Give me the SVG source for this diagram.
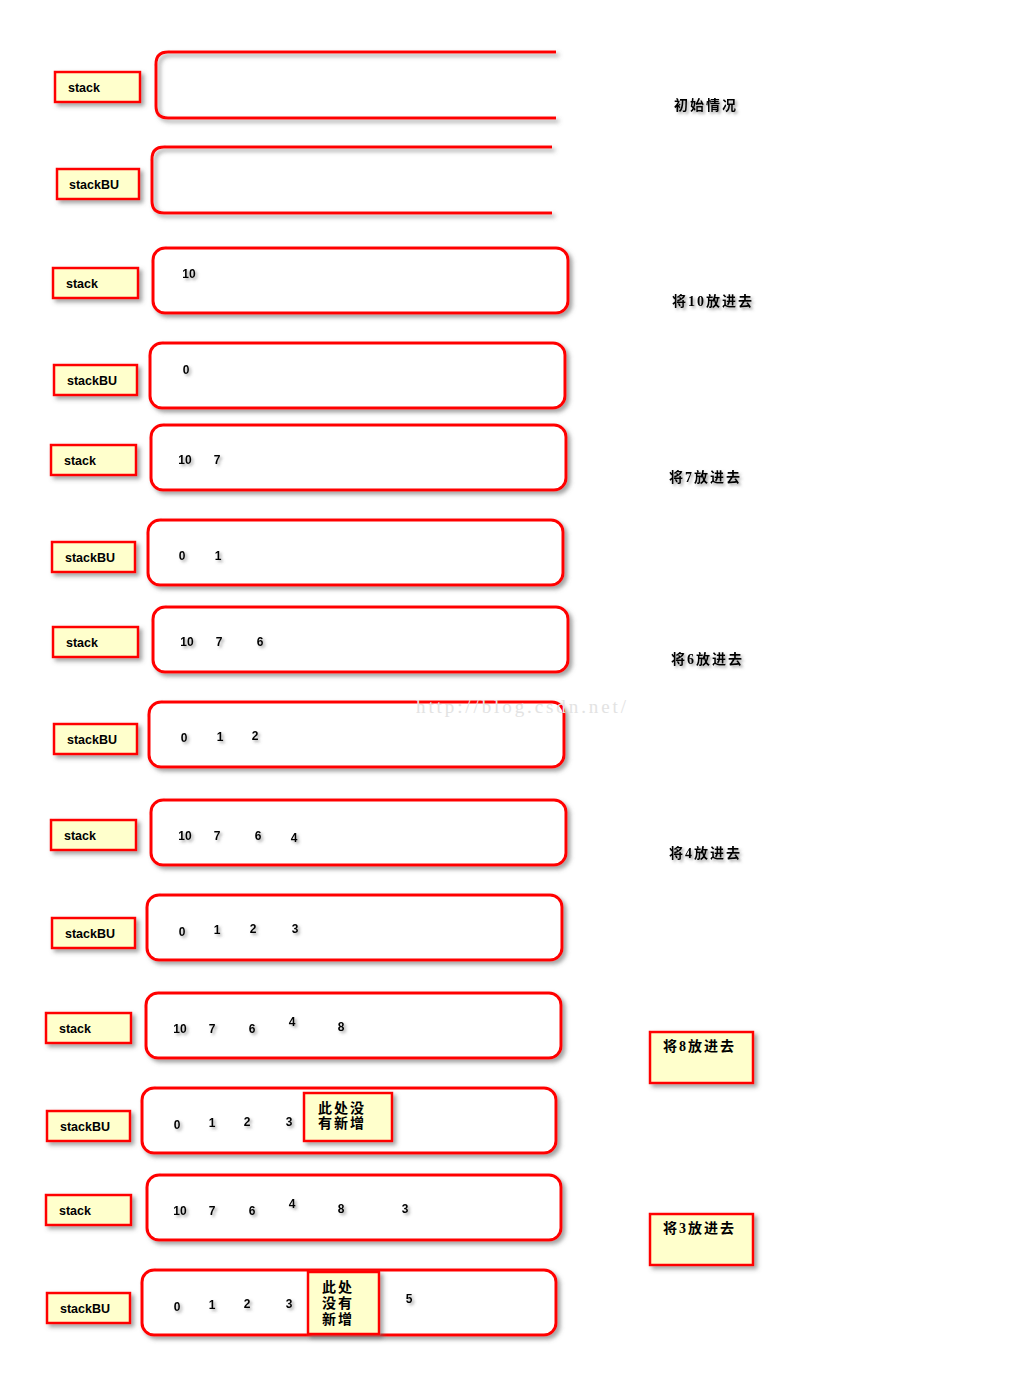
<svg xmlns="http://www.w3.org/2000/svg" width="1022" height="1393" viewBox="0 0 1022 1393">
<defs>
<filter id="sh" x="-10%" y="-20%" width="130%" height="160%"><feDropShadow dx="3" dy="3" stdDeviation="2" flood-color="#666" flood-opacity="0.6"/></filter>
<filter id="tsh" x="-30%" y="-30%" width="180%" height="180%"><feDropShadow dx="2" dy="2" stdDeviation="1.6" flood-color="#555" flood-opacity="0.55"/></filter>
<style>
.big{fill:#fff;stroke:#ff0000;stroke-width:3;filter:url(#sh)}
.open{fill:none;stroke:#ff0000;stroke-width:3;filter:url(#sh)}
.lab{fill:#ffffcc;stroke:#ff0000;stroke-width:2.5;filter:url(#sh)}
.lt{font-family:"Liberation Sans",Arial,sans-serif;font-weight:bold;font-size:12.5px;fill:#000}
.n{font-family:"Liberation Sans",Arial,sans-serif;font-weight:bold;font-size:12px;fill:#000;text-anchor:middle;filter:url(#tsh)}
.cn{font-family:"Liberation Serif","Noto Sans CJK SC",serif;font-weight:bold;font-size:14px;letter-spacing:2px;fill:#000}
.cns{font-family:"Liberation Serif","Noto Sans CJK SC",serif;font-weight:bold;font-size:14px;letter-spacing:2px;fill:#000;filter:url(#tsh)}
.wm{font-family:"Liberation Serif",serif;font-size:19px;fill:#e3e3e3}
</style>
</defs>
<rect width="1022" height="1393" fill="#fff"/>

<g id="row1">
<path class="open" d="M556 52 H168 Q156 52 156 64 V106 Q156 118 168 118 H556"/>
<rect class="lab" x="55" y="72" width="85" height="30"/>
<text class="lt" x="68" y="92">stack</text>
</g>
<g id="row2">
<path class="open" d="M552 147 H164 Q152 147 152 159 V201 Q152 213 164 213 H552"/>
<rect class="lab" x="57" y="169" width="82" height="30"/>
<text class="lt" x="69" y="189">stackBU</text>
</g>
<g id="note-init"><text class="cns" x="674" y="110">初始情况</text></g>

<g id="row3">
<rect class="big" x="153" y="248" width="415" height="65" rx="12"/>
<rect class="lab" x="53" y="268" width="85" height="30"/>
<text class="lt" x="66" y="288">stack</text>
<text class="n" x="189" y="278">10</text>
</g>
<g id="row4">
<rect class="big" x="150" y="343" width="415" height="65" rx="12"/>
<rect class="lab" x="54" y="365" width="83" height="30"/>
<text class="lt" x="67" y="385">stackBU</text>
<text class="n" x="186" y="374">0</text>
</g>
<g id="note-10"><text class="cns" x="672" y="306">将10放进去</text></g>

<g id="row5">
<rect class="big" x="151" y="425" width="415" height="65" rx="12"/>
<rect class="lab" x="51" y="445" width="85" height="30"/>
<text class="lt" x="64" y="465">stack</text>
<text class="n" x="185" y="464">10</text>
<text class="n" x="217" y="464">7</text>
</g>
<g id="row6">
<rect class="big" x="148" y="520" width="415" height="65" rx="12"/>
<rect class="lab" x="52" y="542" width="83" height="30"/>
<text class="lt" x="65" y="562">stackBU</text>
<text class="n" x="182" y="560">0</text>
<text class="n" x="218" y="560">1</text>
</g>
<g id="note-7"><text class="cns" x="669" y="482">将7放进去</text></g>

<g id="row7">
<rect class="big" x="153" y="607" width="415" height="65" rx="12"/>
<rect class="lab" x="53" y="627" width="85" height="30"/>
<text class="lt" x="66" y="647">stack</text>
<text class="n" x="187" y="646">10</text>
<text class="n" x="219" y="646">7</text>
<text class="n" x="260" y="646">6</text>
</g>
<g id="row8">
<rect class="big" x="149" y="702" width="415" height="65" rx="12"/>
<rect class="lab" x="54" y="724" width="83" height="30"/>
<text class="lt" x="67" y="744">stackBU</text>
<text class="n" x="184" y="742">0</text>
<text class="n" x="220" y="741">1</text>
<text class="n" x="255" y="740">2</text>
</g>
<g id="note-6"><text class="cns" x="671" y="664">将6放进去</text></g>

<g id="row9">
<rect class="big" x="151" y="800" width="415" height="65" rx="12"/>
<rect class="lab" x="51" y="820" width="85" height="30"/>
<text class="lt" x="64" y="840">stack</text>
<text class="n" x="185" y="840">10</text>
<text class="n" x="217" y="840">7</text>
<text class="n" x="258" y="840">6</text>
<text class="n" x="294" y="842">4</text>
</g>
<g id="row10">
<rect class="big" x="147" y="895" width="415" height="65" rx="12"/>
<rect class="lab" x="52" y="918" width="83" height="30"/>
<text class="lt" x="65" y="938">stackBU</text>
<text class="n" x="182" y="936">0</text>
<text class="n" x="217" y="934">1</text>
<text class="n" x="253" y="933">2</text>
<text class="n" x="295" y="933">3</text>
</g>
<g id="note-4"><text class="cns" x="669" y="858">将4放进去</text></g>

<g id="row11">
<rect class="big" x="146" y="993" width="415" height="65" rx="12"/>
<rect class="lab" x="46" y="1013" width="85" height="30"/>
<text class="lt" x="59" y="1033">stack</text>
<text class="n" x="180" y="1033">10</text>
<text class="n" x="212" y="1033">7</text>
<text class="n" x="252" y="1033">6</text>
<text class="n" x="292" y="1026">4</text>
<text class="n" x="341" y="1031">8</text>
</g>
<g id="note-8">
<rect class="lab" x="650" y="1032" width="103" height="51"/>
<text class="cn" x="663" y="1051">将8放进去</text>
</g>

<g id="row12">
<rect class="big" x="142" y="1088" width="414" height="65" rx="12"/>
<rect class="lab" x="47" y="1111" width="83" height="30"/>
<text class="lt" x="60" y="1131">stackBU</text>
<text class="n" x="177" y="1129">0</text>
<text class="n" x="212" y="1127">1</text>
<text class="n" x="247" y="1126">2</text>
<text class="n" x="289" y="1126">3</text>
</g>
<g id="note-none-1">
<rect class="lab" x="304" y="1093" width="88" height="48"/>
<text class="cn" x="318" y="1113">此处没</text>
<text class="cn" x="318" y="1128">有新增</text>
</g>

<g id="row13">
<rect class="big" x="147" y="1175" width="414" height="65" rx="12"/>
<rect class="lab" x="46" y="1195" width="85" height="30"/>
<text class="lt" x="59" y="1215">stack</text>
<text class="n" x="180" y="1215">10</text>
<text class="n" x="212" y="1215">7</text>
<text class="n" x="252" y="1215">6</text>
<text class="n" x="292" y="1208">4</text>
<text class="n" x="341" y="1213">8</text>
<text class="n" x="405" y="1213">3</text>
</g>
<g id="note-3">
<rect class="lab" x="650" y="1214" width="103" height="51"/>
<text class="cn" x="663" y="1233">将3放进去</text>
</g>

<g id="row14">
<rect class="big" x="142" y="1270" width="414" height="65" rx="12"/>
<rect class="lab" x="47" y="1293" width="83" height="30"/>
<text class="lt" x="60" y="1313">stackBU</text>
<text class="n" x="177" y="1311">0</text>
<text class="n" x="212" y="1309">1</text>
<text class="n" x="247" y="1308">2</text>
<text class="n" x="289" y="1308">3</text>
<text class="n" x="409" y="1303">5</text>
</g>
<g id="note-none-2">
<rect class="lab" x="308" y="1272" width="71" height="62"/>
<text class="cn" x="322" y="1292">此处</text>
<text class="cn" x="322" y="1308">没有</text>
<text class="cn" x="322" y="1324">新增</text>
</g>

<g id="connectors"></g>
<text class="wm" x="416" y="713" textLength="210" lengthAdjust="spacing">http://blog.csdn.net/</text>
</svg>
